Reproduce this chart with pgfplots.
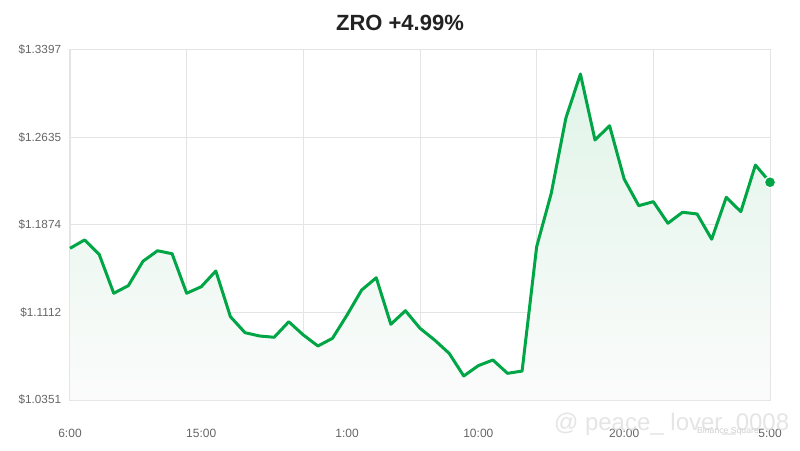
\documentclass[border=0pt]{standalone}
\usepackage{fontspec}
\setmainfont{Liberation Sans}
\usepackage{pgfplots}
\pgfplotsset{compat=1.18}
\usepackage{pgfplotstable}
\definecolor{lineg}{RGB}{0,166,70}
\definecolor{gridc}{RGB}{228,228,228}
\definecolor{tickc}{RGB}{102,102,102}
\definecolor{titc}{RGB}{34,34,34}
\pgfplotstableread{
i v
0 1.1671
1 1.1744
2 1.1619
3 1.1280
4 1.1346
5 1.1558
6 1.1650
7 1.1624
8 1.1280
9 1.1337
10 1.1474
11 1.1076
12 1.0937
13 1.0908
14 1.0897
15 1.1032
16 1.0917
17 1.0821
18 1.0888
19 1.1091
20 1.1308
21 1.1415
22 1.1010
23 1.1128
24 1.0975
25 1.0873
26 1.0757
27 1.0560
28 1.0650
29 1.0699
30 1.0583
31 1.0603
32 1.1685
33 1.2150
34 1.2803
35 1.3188
36 1.2614
37 1.2738
38 1.2274
39 1.2042
40 1.2077
41 1.1889
42 1.1985
43 1.1970
44 1.1750
45 1.2115
46 1.1990
47 1.2396
48 1.2246
}\prices
\begin{document}
\begin{tikzpicture}
\useasboundingbox (0pt,0pt) rectangle (600pt,337.5pt);
\path[fill=white] (0pt,0pt) rectangle (600pt,337.5pt);
\node[font=\bfseries\fontsize{16.5}{18}\selectfont, text=titc] at (300pt,320.25pt) {ZRO +4.99\%};
\begin{axis}[
  at={(52.5pt,37.5pt)}, anchor=south west,
  scale only axis, width=525pt, height=262.5pt,
  xmin=0, xmax=48, ymin=1.0351, ymax=1.3397,
  axis line style={draw=gridc, line width=0.75pt},
  xtick={0,9,19,28,38,48},
  xticklabels={6:00,15:00,1:00,10:00,20:00,5:00},
  minor xtick={8,16,24,32,40},
  ytick={1.0351,1.1112,1.1874,1.2635,1.3397},
  yticklabels={\$1.0351,\$1.1112,\$1.1874,\$1.2635,\$1.3397},
  major tick length=0pt, minor tick length=0pt,
  ymajorgrids, xminorgrids,
  grid style={draw=gridc, line width=0.75pt},
  xticklabel style={font=\fontsize{9}{10}\selectfont, text=tickc, anchor=center, yshift=-24.75pt},
  yticklabel style={font=\fontsize{8.8}{9}\selectfont, text=tickc, anchor=east, inner sep=0pt, xshift=-6.5pt},
  clip=false,
]
\addplot[draw=none, top color=lineg!12, bottom color=gray!3] table[x=i,y=v]{\prices} \closedcycle;
\addplot[lineg, line width=2.25pt, line join=round] table[x=i,y=v]{\prices};
\addplot[only marks, mark=*, mark size=4.2pt, mark options={fill=lineg, draw=white, line width=0.9pt}] coordinates {(48,1.2246)};
\end{axis}
\node[text=gray!25, font=\fontsize{18}{20}\selectfont, anchor=west, opacity=0.8] at (412pt,19.5pt) {@ peace\_ lover\_0008};
\node[text=gray!45, font=\fontsize{6.5}{7}\selectfont, opacity=0.8] at (546pt,14.25pt) {Binance Square};
\end{tikzpicture}
\end{document}
